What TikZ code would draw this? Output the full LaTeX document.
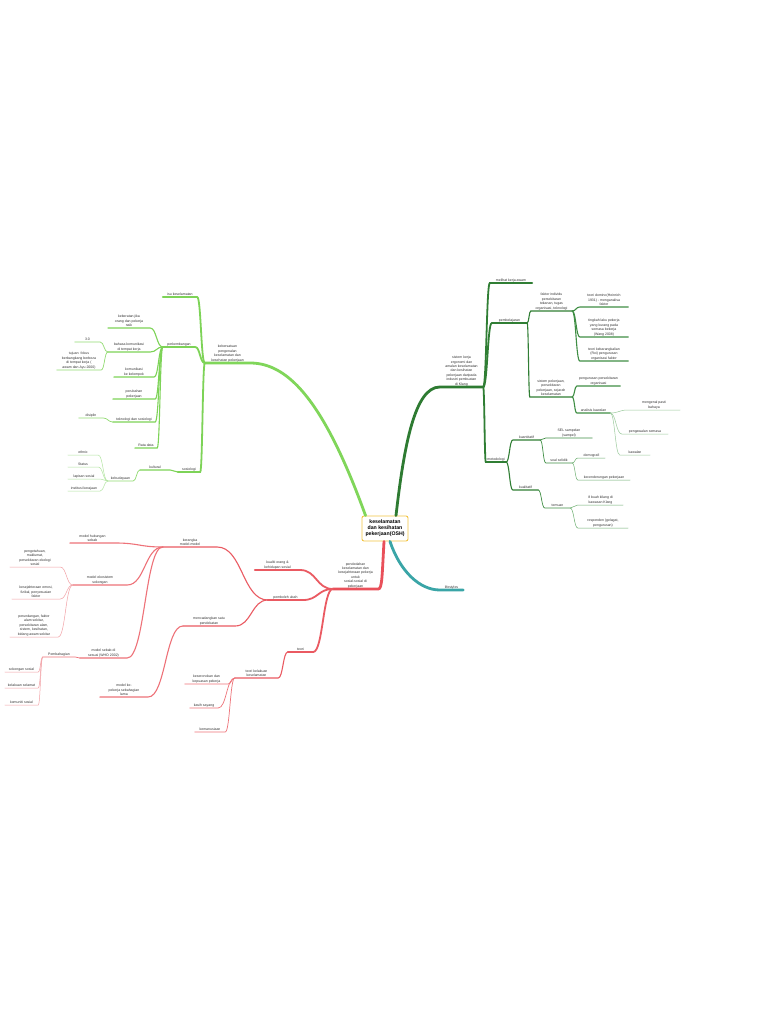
\documentclass[tikz,border=0pt]{standalone}
\usepackage{fontspec}
\setmainfont{Liberation Sans}
\usetikzlibrary{calc}
\definecolor{lg1}{HTML}{80D65A}
\definecolor{lg2}{HTML}{7DD357}
\definecolor{lg3}{HTML}{92DB72}
\definecolor{lg4}{HTML}{B2E5A0}
\definecolor{dg1}{HTML}{2E7B32}
\definecolor{dg2}{HTML}{307E34}
\definecolor{dg3}{HTML}{3F8E44}
\definecolor{dg4}{HTML}{6DAF70}
\definecolor{dg5}{HTML}{9CCB9E}
\definecolor{rd1}{HTML}{E9505A}
\definecolor{rd2}{HTML}{EA5A62}
\definecolor{rd3}{HTML}{EE7279}
\definecolor{rd4}{HTML}{F2A0A5}
\definecolor{rd5}{HTML}{F5BDC0}
\definecolor{tl1}{HTML}{3AA5A7}
\definecolor{boxc}{HTML}{F2C443}
\tikzset{
  lb/.style={anchor=south, align=center, inner xsep=0pt, inner ysep=1pt,
    font=\fontsize{3.5}{4.4}\selectfont, text=black!80},
  ctrbox/.style={draw=boxc, line width=0.9pt, rounded corners=2pt, fill=white,
    minimum width=46pt, minimum height=25pt, align=center, inner sep=1pt,
    font=\fontsize{5.2}{6}\selectfont\bfseries},
  sc/.style={to path={.. controls ($(\tikztostart)!0.5!(\tikztotarget|-\tikztostart)$) and ($(\tikztotarget)!0.5!(\tikztostart|-\tikztotarget)$) .. (\tikztotarget)}},
  e1/.style={line width=2.8pt, line cap=round},
  e2/.style={line width=1.8pt, line cap=round},
  e3/.style={line width=1.1pt, line cap=round},
  e4/.style={line width=0.7pt, line cap=round},
  e5/.style={line width=0.5pt, line cap=round},
}
\begin{document}
\begin{tikzpicture}[x=1pt,y=-1pt]
\useasboundingbox[fill=white] (0,0) rectangle (768,1024);

% centre
\node[ctrbox] (ctr) at (385,528.5) {keselamatan\\dan kesihatan\\pekerjaan(OSH)};

% ---------- light green branch ----------
\node[lb, minimum width=45] (kb) at (227.5,363) {kebersatuan\\pengenalan\\keselamatan dan\\kesehatan pekerjaan};
\node[lb, minimum width=34] (isu) at (180,297) {isu keselamatan};
\node[lb, minimum width=32] (perk) at (179,347) {perkembangan};
\node[lb, minimum width=22] (sos) at (189,472) {sosiologi};
\node[lb, minimum width=42] (kj) at (129,328) {keberatan jika\\orang dan pekerja\\naik};
\node[lb, minimum width=42] (bk) at (129,352) {bahasa komunikasi\\di tempat kerja};
\node[lb, minimum width=40] (kk) at (134,377) {komunikasi\\ke kelompok};
\node[lb, minimum width=42] (pp) at (134,399) {perubahan\\pekerjaan};
\node[lb, minimum width=42] (ts) at (134,422) {teknologi dan sosiologi};
\node[lb, minimum width=22] (rd) at (146,448) {Rata data};
\node[lb, minimum width=25] (n30) at (87.5,342) {3.0};
\node[lb, minimum width=44] (tj) at (79,370) {tujuan: fokus\\berbangkang berbeza\\di tempat kerja (\\awam dan Ayu 2000)};
\node[lb, minimum width=24] (dis) at (91,418) {disiplin};
\node[lb, minimum width=30] (kul) at (155,470) {kultural};
\node[lb, minimum width=25] (keb) at (120.5,481) {kebudayaan};
\node[lb, minimum width=30] (eth) at (83,455) {ethnic};
\node[lb, minimum width=30] (sta) at (83,467) {Status};
\node[lb, minimum width=32] (lap) at (84,479) {lapisan sosial};
\node[lb, minimum width=32] (ins) at (84,491) {institusi kerajaan};

\draw[e1,lg1] ([xshift=4pt]ctr.north west) .. controls +(-40,-110) and +(40,0) .. (kb.south east) -- (kb.south west);
\draw[e2,lg2] (kb.south west) to[sc] (isu.south east) -- (isu.south west);
\draw[e2,lg2] (kb.south west) to[sc] (perk.south east) -- (perk.south west);
\draw[e2,lg2] (kb.south west) to[sc] (sos.south east) -- (sos.south west);
\foreach \c in {kj,bk,kk,pp,ts,rd}
  \draw[e3,lg2] (perk.south west) to[sc] (\c.south east) -- (\c.south west);
\foreach \c in {n30,tj}
  \draw[e4,lg3] (bk.south west) to[sc] (\c.south east) -- (\c.south west);
\draw[e4,lg3] (ts.south west) to[sc] (dis.south east) -- (dis.south west);
\draw[e3,lg2] (sos.south west) to[sc] (kul.south east) -- (kul.south west);
\draw[e4,lg3] (kul.south west) to[sc] (keb.south east) -- (keb.south west);
\foreach \c in {eth,sta,lap,ins}
  \draw[e5,lg4] (keb.south west) to[sc] (\c.south east) -- (\c.south west);

% ---------- dark green branch ----------
\node[lb, minimum width=43] (sk) at (461.5,387) {sistem kerja\\ergonomi dan\\amalan keselamatan\\dan kesihatan\\pekerjaan daripada\\industri pembuatan\\di Klang};
\node[lb, minimum width=42] (mk) at (511,283) {melihat kerja awam};
\node[lb, minimum width=35] (pb) at (509.5,323) {pembelajaran};
\node[lb, minimum width=20] (me) at (496,462) {metodologi};
\node[lb, minimum width=41] (fi) at (551.5,311) {faktor individu\\persekitaran\\tekanan, tugas\\organisasi, teknologi};
\node[lb, minimum width=42] (sp) at (551,397) {sistem pekerjaan,\\persekitaran\\pekerjaan, sejarah\\keselamatan};
\node[lb, minimum width=48] (td) at (604,307) {teori domino(Heinrich\\1931) - menganalisa\\faktor};
\node[lb, minimum width=48] (tlk) at (604,337) {tingkah laku pekerja\\yang kurang pada\\semasa bekerja\\(Wang 2008)};
\node[lb, minimum width=48] (tkb) at (604,361) {teori kebarangkalian\\(Roi) pengurusan\\organisasi faktor};
\node[lb, minimum width=43] (po) at (598.5,386) {pengurusan persekitaran\\organisasi};
\node[lb, minimum width=33] (ak) at (593.5,413) {analisis kawalan};
\node[lb, minimum width=52] (mp) at (654,410) {mengenal pasti\\bahaya};
\node[lb, minimum width=46] (pr) at (645,434) {pengawalan semasa};
\node[lb, minimum width=30] (kw) at (635,455) {kawalan};
\node[lb, minimum width=27] (kn) at (526.5,440) {kuantitatif};
\node[lb, minimum width=25] (kl) at (525.5,490) {kualitatif};
\node[lb, minimum width=46] (sel) at (569,438) {SEL sampelan\\(sampel)};
\node[lb, minimum width=26] (ss) at (559,463) {soal selidik};
\node[lb, minimum width=27] (dem) at (591.5,458) {demografi};
\node[lb, minimum width=52] (kp) at (604,480) {kecenderungan pekerjaan};
\node[lb, minimum width=25] (tm) at (557.5,508) {temuan};
\node[lb, minimum width=45] (bk8) at (600.5,505) {8 buah kilang di\\kawasan Klang};
\node[lb, minimum width=50] (rg) at (603,528) {responden (gelagat,\\pengurusan)};

\draw[e1,dg1] ([xshift=11pt]ctr.north) .. controls +(8,-70) and +(-25,0) .. (sk.south west) -- (sk.south east);
\foreach \c in {mk,pb,me}
  \draw[e2,dg2] (sk.south east) to[sc] (\c.south west) -- (\c.south east);
\foreach \c in {fi,sp}
  \draw[e3,dg2] (pb.south east) to[sc] (\c.south west) -- (\c.south east);
\foreach \c in {td,tlk,tkb}
  \draw[e3,dg3] (fi.south east) to[sc] (\c.south west) -- (\c.south east);
\foreach \c in {po,ak}
  \draw[e3,dg3] (sp.south east) to[sc] (\c.south west) -- (\c.south east);
\foreach \c in {mp,pr,kw}
  \draw[e5,dg5] (ak.south east) to[sc] (\c.south west) -- (\c.south east);
\foreach \c in {kn,kl}
  \draw[e3,dg2] (me.south east) to[sc] (\c.south west) -- (\c.south east);
\foreach \c in {sel,ss}
  \draw[e4,dg3] (kn.south east) to[sc] (\c.south west) -- (\c.south east);
\foreach \c in {dem,kp}
  \draw[e5,dg4] (ss.south east) to[sc] (\c.south west) -- (\c.south east);
\draw[e4,dg3] (kl.south east) to[sc] (tm.south west) -- (tm.south east);
\foreach \c in {bk8,rg}
  \draw[e5,dg4] (tm.south east) to[sc] (\c.south west) -- (\c.south east);

% ---------- teal branch ----------
\node[lb, minimum width=23] (ls) at (451.5,590) {lifestyles};
\draw[e1,tl1] ([xshift=5pt]ctr.south) .. controls +(10,30) and +(-20,0) .. (ls.south west) -- (ls.south east);

% ---------- red branch ----------
\node[lb, minimum width=45] (pd) at (355.5,589) {pendedahan\\keselamatan dan\\kesejahteraan pekerja\\untuk\\sosial-sosial di\\pekerjaan};
\node[lb, minimum width=45] (ko) at (277.5,570) {kualiti orang \&\\kehidupan sosial};
\node[lb, minimum width=35] (pu) at (285.5,600) {pemboleh ubah};
\node[lb, minimum width=25] (te) at (300.5,652) {teori};
\node[lb, minimum width=54] (km) at (190,547) {kerangka\\model-model};
\node[lb, minimum width=52] (mc) at (209,626) {mencadangkan satu\\pendekatan};
\node[lb, minimum width=45] (mh) at (92.5,543) {model hubungan\\sebab};
\node[lb, minimum width=54] (me2) at (100,585) {model ekosistem\\sokongan};
\node[lb, minimum width=47] (ms) at (103.5,658) {model sebab di\\sesuai (WHO 2002)};
\node[lb, minimum width=32] (pem) at (59,657) {Pembahagian};
\node[lb, minimum width=50] (pg) at (35,567) {pengetahuan,\\maklumat,\\persekitaran ekologi\\sosial};
\node[lb, minimum width=48] (ksj) at (36,599) {kesejahteraan emosi,\\fizikal, penyesuaian\\faktor};
\node[lb, minimum width=48] (pr2) at (34,637) {perundangan, faktor\\alam sekitar,\\persekitaran alam,\\sistem, kesihatan,\\bidang awam sekitar};
\node[lb, minimum width=33] (sks) at (21.5,672) {sokongan sosial};
\node[lb, minimum width=33] (kls) at (21.5,688) {kelakuan selamat};
\node[lb, minimum width=33] (kms) at (21.5,705) {komuniti sosial};
\node[lb, minimum width=48] (mk2) at (124,697) {model ke-\\pekerja sebahagian\\lama};
\node[lb, minimum width=43] (tk) at (256.5,678) {teori kelakuan\\keselamatan};
\node[lb, minimum width=43] (ksp) at (206.5,684) {keseronokan dan\\kepuasan pekerja};
\node[lb, minimum width=28] (ks) at (204,708) {kasih sayang};
\node[lb, minimum width=30] (kmn) at (210,732) {kemanusiaan};

\draw[e1,rd1] ([xshift=-1pt]ctr.south) .. controls +(-2,35) and +(4,0) .. (pd.south east) -- (pd.south west);
\foreach \c in {ko,pu,te}
  \draw[e2,rd2] (pd.south west) to[sc] (\c.south east) -- (\c.south west);
\foreach \c in {km,mc}
  \draw[e3,rd2] (pu.south west) to[sc] (\c.south east) -- (\c.south west);
\foreach \c in {mh,me2,ms}
  \draw[e3,rd3] (km.south west) to[sc] (\c.south east) -- (\c.south west);
\foreach \c in {pg,ksj,pr2}
  \draw[e5,rd4] (me2.south west) to[sc] (\c.south east) -- (\c.south west);
\draw[e4,rd3] (ms.south west) to[sc] (pem.south east) -- (pem.south west);
\foreach \c in {sks,kls,kms}
  \draw[e5,rd4] (pem.south west) to[sc] (\c.south east) -- (\c.south west);
\draw[e3,rd3] (mc.south west) to[sc] (mk2.south east) -- (mk2.south west);
\draw[e3,rd2] (te.south west) to[sc] (tk.south east) -- (tk.south west);
\foreach \c in {ksp,ks,kmn}
  \draw[e4,rd3] (tk.south west) to[sc] (\c.south east) -- (\c.south west);
\end{tikzpicture}
\end{document}
